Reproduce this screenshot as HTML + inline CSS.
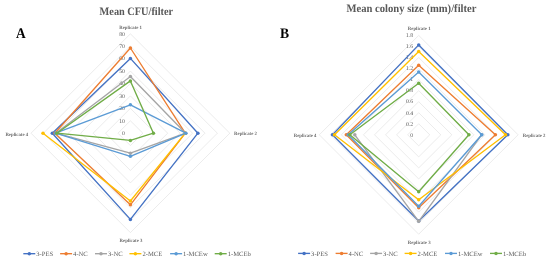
<!DOCTYPE html>
<html><head><meta charset="utf-8"><style>
html,body{margin:0;padding:0;background:#fff;}
body{width:550px;height:262px;overflow:hidden;}
svg{display:block;}
#w{width:550px;height:262px;}
text{font-family:"Liberation Serif","Times New Roman",serif;text-rendering:geometricPrecision;}
.tk{font-size:5.7px;fill:#595959;text-anchor:end;}
.rp{font-size:4.8px;fill:#707070;font-weight:bold;}
.lg{font-size:6.6px;fill:#595959;}
.tt{font-size:11.3px;font-weight:bold;fill:#595959;}
.ab{font-size:14.6px;font-weight:bold;fill:#000;}
</style></head><body><div id="w">
<svg width="550" height="262" viewBox="0 0 550 262">
<rect width="550" height="262" fill="#fff"/>
<polygon points="130.4,120.77 142.83,133.2 130.4,145.62 117.98,133.2" fill="none" stroke="#DEDEDE" stroke-width="0.6"/>
<polygon points="130.4,108.35 155.25,133.2 130.4,158.05 105.55,133.2" fill="none" stroke="#DEDEDE" stroke-width="0.6"/>
<polygon points="130.4,95.92 167.68,133.2 130.4,170.47 93.12,133.2" fill="none" stroke="#DEDEDE" stroke-width="0.6"/>
<polygon points="130.4,83.5 180.1,133.2 130.4,182.9 80.7,133.2" fill="none" stroke="#DEDEDE" stroke-width="0.6"/>
<polygon points="130.4,71.07 192.53,133.2 130.4,195.32 68.28,133.2" fill="none" stroke="#DEDEDE" stroke-width="0.6"/>
<polygon points="130.4,58.65 204.95,133.2 130.4,207.75 55.85,133.2" fill="none" stroke="#DEDEDE" stroke-width="0.6"/>
<polygon points="130.4,46.22 217.38,133.2 130.4,220.18 43.42,133.2" fill="none" stroke="#DEDEDE" stroke-width="0.6"/>
<polygon points="130.4,33.8 229.8,133.2 130.4,232.6 31,133.2" fill="none" stroke="#DEDEDE" stroke-width="0.6"/>
<text x="124.9" y="135" class="tk">0</text>
<text x="124.9" y="122.57" class="tk">10</text>
<text x="124.9" y="110.15" class="tk">20</text>
<text x="124.9" y="97.72" class="tk">30</text>
<text x="124.9" y="85.3" class="tk">40</text>
<text x="124.9" y="72.87" class="tk">50</text>
<text x="124.9" y="60.45" class="tk">60</text>
<text x="124.9" y="48.02" class="tk">70</text>
<text x="124.9" y="35.6" class="tk">80</text>
<path d="M130.4 58.4L197.9 133.2M197.9 133.2L130.4 219.4M130.4 219.4L52.3 133.2M52.3 133.2L130.4 58.4" fill="none" stroke="#4472C4" stroke-width="1.35" stroke-linejoin="round" stroke-linecap="round"/>
<circle cx="130.4" cy="58.4" r="1.75" fill="#4472C4"/>
<circle cx="197.9" cy="133.2" r="1.75" fill="#4472C4"/>
<circle cx="130.4" cy="219.4" r="1.75" fill="#4472C4"/>
<circle cx="52.3" cy="133.2" r="1.75" fill="#4472C4"/>
<path d="M130.4 48L185.3 133.2M185.3 133.2L130.4 204.8M130.4 204.8L54.8 133.2M54.8 133.2L130.4 48" fill="none" stroke="#ED7D31" stroke-width="1.35" stroke-linejoin="round" stroke-linecap="round"/>
<circle cx="130.4" cy="48" r="1.75" fill="#ED7D31"/>
<circle cx="185.3" cy="133.2" r="1.75" fill="#ED7D31"/>
<circle cx="130.4" cy="204.8" r="1.75" fill="#ED7D31"/>
<circle cx="54.8" cy="133.2" r="1.75" fill="#ED7D31"/>
<path d="M130.4 76.5L185.6 133.2M185.6 133.2L130.4 153.2M130.4 153.2L55.8 133.2M55.8 133.2L130.4 76.5" fill="none" stroke="#A5A5A5" stroke-width="1.35" stroke-linejoin="round" stroke-linecap="round"/>
<circle cx="130.4" cy="76.5" r="1.75" fill="#A5A5A5"/>
<circle cx="185.6" cy="133.2" r="1.75" fill="#A5A5A5"/>
<circle cx="130.4" cy="153.2" r="1.75" fill="#A5A5A5"/>
<circle cx="55.8" cy="133.2" r="1.75" fill="#A5A5A5"/>
<path d="M185.2 133.2L130.4 201M130.4 201L43 133.2" fill="none" stroke="#FFC000" stroke-width="1.35" stroke-linejoin="round" stroke-linecap="round"/>
<circle cx="185.2" cy="133.2" r="1.75" fill="#FFC000"/>
<circle cx="130.4" cy="201" r="1.75" fill="#FFC000"/>
<circle cx="43" cy="133.2" r="1.75" fill="#FFC000"/>
<path d="M130.4 104.8L185.9 133.2M185.9 133.2L130.4 156.3M130.4 156.3L55.5 133.2M55.5 133.2L130.4 104.8" fill="none" stroke="#5B9BD5" stroke-width="1.35" stroke-linejoin="round" stroke-linecap="round"/>
<circle cx="130.4" cy="104.8" r="1.75" fill="#5B9BD5"/>
<circle cx="185.9" cy="133.2" r="1.75" fill="#5B9BD5"/>
<circle cx="130.4" cy="156.3" r="1.75" fill="#5B9BD5"/>
<circle cx="55.5" cy="133.2" r="1.75" fill="#5B9BD5"/>
<path d="M130.4 80.9L153.4 133.2M153.4 133.2L130.4 140.4M130.4 140.4L56.8 133.2M56.8 133.2L130.4 80.9" fill="none" stroke="#70AD47" stroke-width="1.35" stroke-linejoin="round" stroke-linecap="round"/>
<circle cx="130.4" cy="80.9" r="1.75" fill="#70AD47"/>
<circle cx="153.4" cy="133.2" r="1.75" fill="#70AD47"/>
<circle cx="130.4" cy="140.4" r="1.75" fill="#70AD47"/>
<circle cx="56.8" cy="133.2" r="1.75" fill="#70AD47"/>
<polygon points="418.7,123.76 429.74,134.8 418.7,145.84 407.66,134.8" fill="none" stroke="#DEDEDE" stroke-width="0.6"/>
<polygon points="418.7,112.71 440.79,134.8 418.7,156.89 396.61,134.8" fill="none" stroke="#DEDEDE" stroke-width="0.6"/>
<polygon points="418.7,101.67 451.83,134.8 418.7,167.93 385.57,134.8" fill="none" stroke="#DEDEDE" stroke-width="0.6"/>
<polygon points="418.7,90.62 462.88,134.8 418.7,178.98 374.52,134.8" fill="none" stroke="#DEDEDE" stroke-width="0.6"/>
<polygon points="418.7,79.58 473.92,134.8 418.7,190.02 363.48,134.8" fill="none" stroke="#DEDEDE" stroke-width="0.6"/>
<polygon points="418.7,68.53 484.97,134.8 418.7,201.07 352.43,134.8" fill="none" stroke="#DEDEDE" stroke-width="0.6"/>
<polygon points="418.7,57.49 496.01,134.8 418.7,212.11 341.39,134.8" fill="none" stroke="#DEDEDE" stroke-width="0.6"/>
<polygon points="418.7,46.44 507.06,134.8 418.7,223.16 330.34,134.8" fill="none" stroke="#DEDEDE" stroke-width="0.6"/>
<polygon points="418.7,35.4 518.1,134.8 418.7,234.2 319.3,134.8" fill="none" stroke="#DEDEDE" stroke-width="0.6"/>
<text x="413.2" y="136.6" class="tk">0</text>
<text x="413.2" y="125.56" class="tk">0.2</text>
<text x="413.2" y="114.51" class="tk">0.4</text>
<text x="413.2" y="103.47" class="tk">0.6</text>
<text x="413.2" y="92.42" class="tk">0.8</text>
<text x="413.2" y="81.38" class="tk">1</text>
<text x="413.2" y="70.33" class="tk">1.2</text>
<text x="413.2" y="59.29" class="tk">1.4</text>
<text x="413.2" y="48.24" class="tk">1.6</text>
<text x="413.2" y="37.2" class="tk">1.8</text>
<path d="M418.7 44.9L507.8 134.8M507.8 134.8L418.7 221M418.7 221L332.5 134.8M332.5 134.8L418.7 44.9" fill="none" stroke="#4472C4" stroke-width="1.35" stroke-linejoin="round" stroke-linecap="round"/>
<circle cx="418.7" cy="44.9" r="1.75" fill="#4472C4"/>
<circle cx="507.8" cy="134.8" r="1.75" fill="#4472C4"/>
<circle cx="418.7" cy="221" r="1.75" fill="#4472C4"/>
<circle cx="332.5" cy="134.8" r="1.75" fill="#4472C4"/>
<path d="M418.7 65.2L495.4 134.8M495.4 134.8L418.7 207.8M418.7 207.8L346.3 134.8M346.3 134.8L418.7 65.2" fill="none" stroke="#ED7D31" stroke-width="1.35" stroke-linejoin="round" stroke-linecap="round"/>
<circle cx="418.7" cy="65.2" r="1.75" fill="#ED7D31"/>
<circle cx="495.4" cy="134.8" r="1.75" fill="#ED7D31"/>
<circle cx="418.7" cy="207.8" r="1.75" fill="#ED7D31"/>
<circle cx="346.3" cy="134.8" r="1.75" fill="#ED7D31"/>
<path d="M481.6 134.8L418.7 221.3M418.7 221.3L354.8 134.8" fill="none" stroke="#A5A5A5" stroke-width="1.35" stroke-linejoin="round" stroke-linecap="round"/>
<circle cx="481.6" cy="134.8" r="1.75" fill="#A5A5A5"/>
<circle cx="418.7" cy="221.3" r="1.75" fill="#A5A5A5"/>
<circle cx="354.8" cy="134.8" r="1.75" fill="#A5A5A5"/>
<path d="M418.7 51.5L505.5 134.8M505.5 134.8L418.7 199.7M418.7 199.7L334.5 134.8M334.5 134.8L418.7 51.5" fill="none" stroke="#FFC000" stroke-width="1.35" stroke-linejoin="round" stroke-linecap="round"/>
<circle cx="418.7" cy="51.5" r="1.75" fill="#FFC000"/>
<circle cx="505.5" cy="134.8" r="1.75" fill="#FFC000"/>
<circle cx="418.7" cy="199.7" r="1.75" fill="#FFC000"/>
<circle cx="334.5" cy="134.8" r="1.75" fill="#FFC000"/>
<path d="M418.7 72.1L481.8 134.8M481.8 134.8L418.7 206.2M418.7 206.2L348.2 134.8M348.2 134.8L418.7 72.1" fill="none" stroke="#5B9BD5" stroke-width="1.35" stroke-linejoin="round" stroke-linecap="round"/>
<circle cx="418.7" cy="72.1" r="1.75" fill="#5B9BD5"/>
<circle cx="481.8" cy="134.8" r="1.75" fill="#5B9BD5"/>
<circle cx="418.7" cy="206.2" r="1.75" fill="#5B9BD5"/>
<circle cx="348.2" cy="134.8" r="1.75" fill="#5B9BD5"/>
<path d="M418.7 83.3L468.9 134.8M468.9 134.8L418.7 191.7M418.7 191.7L349.8 134.8M349.8 134.8L418.7 83.3" fill="none" stroke="#70AD47" stroke-width="1.35" stroke-linejoin="round" stroke-linecap="round"/>
<circle cx="418.7" cy="83.3" r="1.75" fill="#70AD47"/>
<circle cx="468.9" cy="134.8" r="1.75" fill="#70AD47"/>
<circle cx="418.7" cy="191.7" r="1.75" fill="#70AD47"/>
<circle cx="349.8" cy="134.8" r="1.75" fill="#70AD47"/>
<text x="130.6" y="29" class="rp" text-anchor="middle">Replicate 1</text>
<text x="234.1" y="135.4" class="rp" text-anchor="start">Replicate 2</text>
<text x="131" y="241.6" class="rp" text-anchor="middle">Replicate 3</text>
<text x="28.2" y="135.5" class="rp" text-anchor="end">Replicate 4</text>
<text x="419.2" y="30.4" class="rp" text-anchor="middle">Replicate 1</text>
<text x="522.7" y="137.2" class="rp" text-anchor="start">Replicate 2</text>
<text x="419.2" y="243.8" class="rp" text-anchor="middle">Replicate 3</text>
<text x="316.5" y="137.4" class="rp" text-anchor="end">Replicate 4</text>
<text x="99.6" y="14.6" class="tt" textLength="73.6" lengthAdjust="spacingAndGlyphs">Mean CFU/filter</text>
<text x="346.5" y="11.85" class="tt" textLength="130.0" lengthAdjust="spacingAndGlyphs">Mean colony size (mm)/filter</text>
<text x="15.9" y="37.7" class="ab" textLength="9.7" lengthAdjust="spacingAndGlyphs">A</text>
<text x="279.9" y="37.8" class="ab" textLength="9.1" lengthAdjust="spacingAndGlyphs">B</text>
<path d="M23.3 253.7H35.3" stroke="#4472C4" stroke-width="1.35"/>
<circle cx="29.3" cy="253.7" r="1.75" fill="#4472C4"/>
<text x="36.3" y="255.9" class="lg">3-PES</text>
<path d="M60.1 253.7H72.1" stroke="#ED7D31" stroke-width="1.35"/>
<circle cx="66.1" cy="253.7" r="1.75" fill="#ED7D31"/>
<text x="73.1" y="255.9" class="lg">4-NC</text>
<path d="M95 253.7H107" stroke="#A5A5A5" stroke-width="1.35"/>
<circle cx="101" cy="253.7" r="1.75" fill="#A5A5A5"/>
<text x="108" y="255.9" class="lg">3-NC</text>
<path d="M129.4 253.7H141.4" stroke="#FFC000" stroke-width="1.35"/>
<circle cx="135.4" cy="253.7" r="1.75" fill="#FFC000"/>
<text x="142.4" y="255.9" class="lg">2-MCE</text>
<path d="M170.1 253.7H182.1" stroke="#5B9BD5" stroke-width="1.35"/>
<circle cx="176.1" cy="253.7" r="1.75" fill="#5B9BD5"/>
<text x="183.1" y="255.9" class="lg">1-MCEw</text>
<path d="M214.7 253.7H226.7" stroke="#70AD47" stroke-width="1.35"/>
<circle cx="220.7" cy="253.7" r="1.75" fill="#70AD47"/>
<text x="227.7" y="255.9" class="lg">1-MCEb</text>
<path d="M298.1 253.4H310.1" stroke="#4472C4" stroke-width="1.35"/>
<circle cx="304.1" cy="253.4" r="1.75" fill="#4472C4"/>
<text x="311.1" y="255.6" class="lg">3-PES</text>
<path d="M335.6 253.4H347.6" stroke="#ED7D31" stroke-width="1.35"/>
<circle cx="341.6" cy="253.4" r="1.75" fill="#ED7D31"/>
<text x="348.6" y="255.6" class="lg">4-NC</text>
<path d="M370.1 253.4H382.1" stroke="#A5A5A5" stroke-width="1.35"/>
<circle cx="376.1" cy="253.4" r="1.75" fill="#A5A5A5"/>
<text x="383.1" y="255.6" class="lg">3-NC</text>
<path d="M404.6 253.4H416.6" stroke="#FFC000" stroke-width="1.35"/>
<circle cx="410.6" cy="253.4" r="1.75" fill="#FFC000"/>
<text x="417.6" y="255.6" class="lg">2-MCE</text>
<path d="M445 253.4H457" stroke="#5B9BD5" stroke-width="1.35"/>
<circle cx="451" cy="253.4" r="1.75" fill="#5B9BD5"/>
<text x="458" y="255.6" class="lg">1-MCEw</text>
<path d="M490 253.4H502" stroke="#70AD47" stroke-width="1.35"/>
<circle cx="496" cy="253.4" r="1.75" fill="#70AD47"/>
<text x="503" y="255.6" class="lg">1-MCEb</text>
</svg></div>
</body></html>
